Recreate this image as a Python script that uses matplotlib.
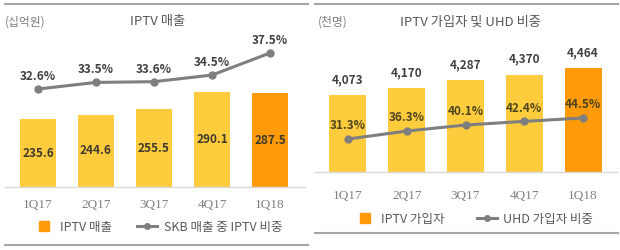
import matplotlib
matplotlib.use('Agg')
import matplotlib.pyplot as plt
from matplotlib.lines import Line2D

plt.rcParams['font.family'] = ['Noto Sans CJK KR', 'DejaVu Sans']

quarters = ['1Q17', '2Q17', '3Q17', '4Q17', '1Q18']

# left: IPTV revenue (KRW bn) and share of SKB revenue (%)
revenue = [235.6, 244.6, 255.5, 290.1, 287.5]
rev_share = [32.6, 33.5, 33.6, 34.5, 37.5]

# right: IPTV subscribers (thousand) and UHD share (%)
subs = [4073, 4170, 4287, 4370, 4464]
uhd_share = [31.3, 36.3, 40.1, 42.4, 44.5]

YELLOW = '#FFCC3E'
ORANGE = '#FF9A0A'
GRAY = '#7F7F7F'
W, H = 620, 250

fig = plt.figure(figsize=(6.2, 2.5), dpi=100)


def px_axes(x0, x1, ytop, ybot):
    # pixel box (origin top-left) -> figure axes
    return fig.add_axes([x0 / W, 1 - ybot / H, (x1 - x0) / W, (ybot - ytop) / H])


def hline(x0, x1, y, color, lw):
    fig.add_artist(Line2D([x0 / W, x1 / W], [1 - y / H, 1 - y / H],
                          color=color, lw=lw, transform=fig.transFigure))


def strip(ax):
    for s in ax.spines.values():
        s.set_visible(False)
    ax.set_yticks([])
    ax.patch.set_alpha(0)


def legend_handles(bar_label, line_label):
    return [Line2D([], [], ls='none', marker='s', ms=7, color=ORANGE, label=bar_label),
            Line2D([], [], color=GRAY, lw=2.2, marker='o', ms=4, label=line_label)]


colors = [YELLOW] * 4 + [ORANGE]
x = range(len(quarters))

# ---------------- left panel ----------------
ax1 = px_axes(9, 299, 40, 187)
ax1.bar(x, revenue, width=0.62, color=colors)
ax1.set_ylim(100, 394)
ax1.set_xlim(-0.5, 4.5)
strip(ax1)
ax1.set_xticks(list(x))
ax1.set_xticklabels(quarters, fontsize=9.5, color='#808080', family=['Liberation Serif'])
ax1.tick_params(axis='x', length=0, pad=9)
for i, v in enumerate(revenue):
    ax1.text(i, (v + 100) / 2, f'{v:.1f}', ha='center', va='center',
             fontsize=8.5, fontweight='bold', color='#3F3A2E')

ax1b = ax1.twinx()
ax1b.plot(x, rev_share, color=GRAY, lw=2.2, marker='o', ms=5)
ax1b.set_ylim(19.27, 39.27)
strip(ax1b)
for i, v in enumerate(rev_share):
    ax1b.annotate(f'{v:.1f}%', (i, v), xytext=(0, 9), textcoords='offset points',
                  ha='center', va='center', fontsize=8.5, fontweight='bold', color='#404040')

hline(5, 305, 187, '#D9D9D9', 1)
hline(5, 308, 4, '#A6A6A6', 1.5)
hline(5, 308, 245, '#A6A6A6', 1.5)
fig.text(5 / W, 1 - 22 / H, '(십억원)', fontsize=8.5, color='#7F7F7F', va='center')
fig.text(158 / W, 1 - 22 / H, 'IPTV 매출', fontsize=9.5, color='#595959', va='center', ha='center')

fig.legend(handles=legend_handles('IPTV 매출', 'SKB 매출 중 IPTV 비중'),
           loc='center', bbox_to_anchor=(158 / W, 1 - 227 / H), ncol=2, frameon=False,
           fontsize=9, handlelength=1.6, columnspacing=2.0,
           handletextpad=0.5, labelcolor='#595959')

# ---------------- right panel ----------------
ax2 = px_axes(318.6, 612.4, 40, 172)
ax2.bar(x, subs, width=0.63, color=colors)
ax2.set_ylim(2960, 4870)
ax2.set_xlim(-0.5, 4.5)
strip(ax2)
ax2.set_xticks(list(x))
ax2.set_xticklabels(quarters, fontsize=9.5, color='#808080', family=['Liberation Serif'])
ax2.tick_params(axis='x', length=0, pad=13)
for i, v in enumerate(subs):
    ax2.annotate(f'{v:,}', (i, v), xytext=(0, 11), textcoords='offset points',
                 ha='center', va='center', fontsize=8.5, fontweight='bold', color='#404040')

ax2b = ax2.twinx()
ax2b.plot(x, uhd_share, color=GRAY, lw=2.2, marker='o', ms=5)
ax2b.set_ylim(10.55, 93.56)
strip(ax2b)
for i, v in enumerate(uhd_share):
    ax2b.annotate(f'{v:.1f}%', (i, v), xytext=(0, 9.5), textcoords='offset points',
                  ha='center', va='center', fontsize=8.5, fontweight='bold', color='#4D4320')

hline(315, 617, 172, '#D9D9D9', 1)
hline(315, 618, 4, '#A6A6A6', 1.5)
hline(315, 618, 233, '#A6A6A6', 1.5)
fig.text(318 / W, 1 - 22 / H, '(천명)', fontsize=8.5, color='#7F7F7F', va='center')
fig.text(470 / W, 1 - 22 / H, 'IPTV 가입자 및 UHD 비중', fontsize=9.5, color='#595959',
         va='center', ha='center')

fig.legend(handles=legend_handles('IPTV 가입자', 'UHD 가입자 비중'),
           loc='center', bbox_to_anchor=(474 / W, 1 - 219 / H), ncol=2, frameon=False,
           fontsize=9, handlelength=1.6, columnspacing=2.6,
           handletextpad=0.5, labelcolor='#595959')

fig.savefig('out.png', dpi=100)
